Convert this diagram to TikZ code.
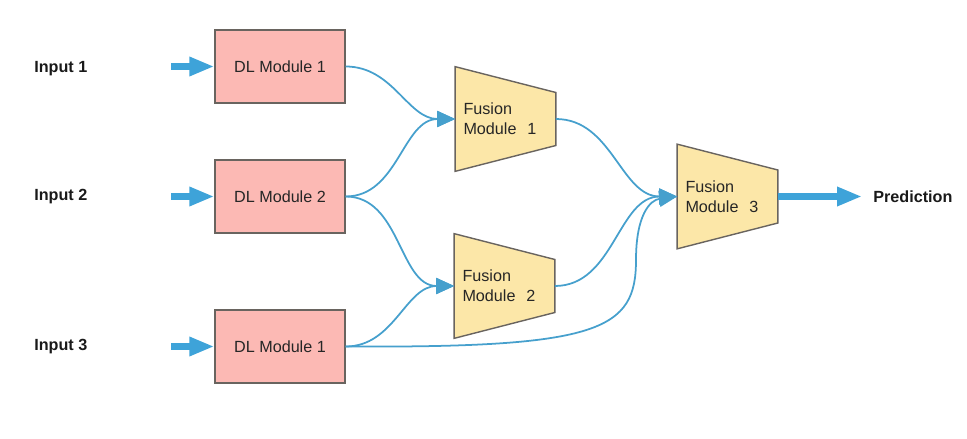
\documentclass[tikz,border=0pt]{standalone}
\usepackage{fontspec}
\setmainfont{Liberation Sans}
\usepackage{xcolor}
\usepackage{tikz}
\usetikzlibrary{arrows.meta,positioning,calc,backgrounds}
\definecolor{dlpink}{RGB}{252,185,180}
\definecolor{fuseyellow}{RGB}{252,231,168}
\definecolor{linkblue}{RGB}{70,160,205}
\definecolor{fatblue}{RGB}{62,163,217}
\definecolor{edgegray}{RGB}{105,100,95}
\newcommand{\lblfont}{\fontsize{9.2pt}{11.4pt}\selectfont}
\tikzset{
  dlbox/.style={rectangle, draw=edgegray, line width=0.8pt, fill=dlpink,
                minimum width=2.6cm, minimum height=1.46cm,
                font=\lblfont, text=black!85},
  fusebox/.style={rectangle, inner xsep=0.16cm, inner ysep=0pt, text width=1.68cm,
                  minimum height=2.08cm, align=left, font=\lblfont, text=black!85},
  trap/.style={draw=edgegray, line width=0.8pt, fill=fuseyellow},
  inlabel/.style={inner sep=0pt, anchor=west, font=\lblfont\bfseries, text=black!90},
  link/.style={-{Triangle[length=0.36cm,width=0.32cm]}, line width=1pt, draw=linkblue},
  fat/.style={-{Triangle[length=0.5cm,width=0.36cm]}, line width=0.14cm, draw=fatblue},
}
\begin{document}
\begin{tikzpicture}
  \useasboundingbox (0,0) rectangle (19.34,-8.78);
  \node[dlbox] (dl1) at (5.6,-1.33) {DL Module 1};
  \node[dlbox] (dl2) at (5.6,-3.93) {DL Module 2};
  \node[dlbox] (dl3) at (5.6,-6.93) {DL Module 1};
  \node[inlabel] (in1) at (0.68,-1.37) {Input 1};
  \node[inlabel] (in2) at (0.68,-3.94) {Input 2};
  \node[inlabel] (in3) at (0.68,-6.94) {Input 3};
  \node[fusebox] (f1) at (10.11,-2.38) {Fusion\\Module\ \ 1};
  \node[fusebox] (f2) at (10.09,-5.72) {Fusion\\Module\ \ 2};
  \node[fusebox] (f3) at (14.55,-3.93) {Fusion\\Module\ \ 3};
  \node[inlabel] (pred) at (17.46,-3.93) {Prediction};
  % trapezoid outlines behind the fusion labels
  \begin{scope}[on background layer]
    \foreach \f in {f1,f2,f3}
      \draw[trap] (\f.north west) -- ($(\f.east)+(0,0.53)$)
        -- ($(\f.east)+(0,-0.53)$) -- (\f.south west) -- cycle;
  \end{scope}
  \foreach \d in {dl1,dl2,dl3}
    \draw[fat] ([xshift=-0.86cm]\d.west) -- (\d.west);
  \draw[fat] (f3.east) -- ([xshift=-0.22cm]pred.west);
  \foreach \a/\b in {dl1/f1, dl2/f1, dl2/f2, dl3/f2, f1/f3, f2/f3}
    \draw[link] (\a.east) to[out=0,in=180] (\b.west);
  \draw[link] (dl3.east) .. controls (12.0,-6.96) and (12.72,-6.6) .. (12.72,-5.2)
    .. controls (12.72,-4.3) and (13.0,-4.0) .. (f3.west);
\end{tikzpicture}
\end{document}
